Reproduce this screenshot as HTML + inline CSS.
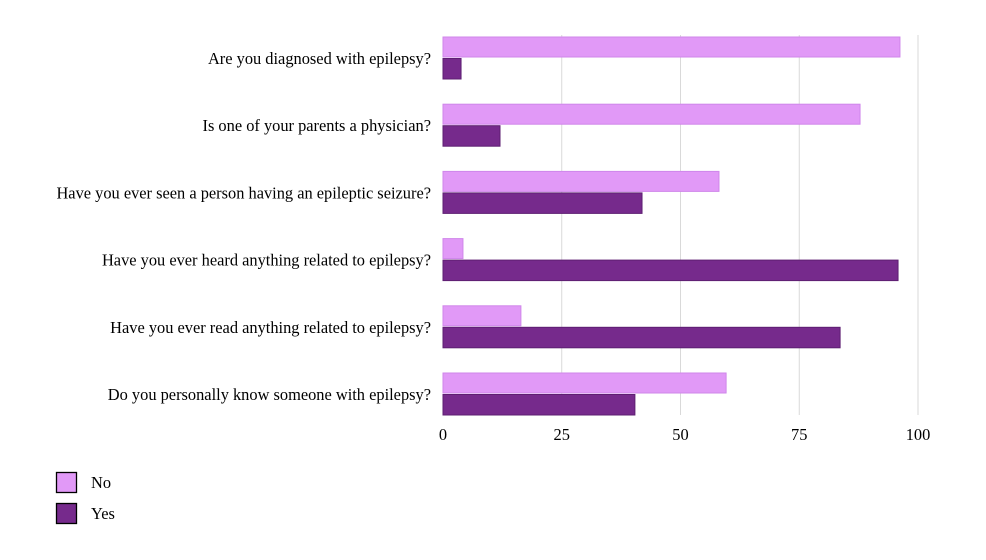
<!DOCTYPE html>
<html><head><meta charset="utf-8"><style>
body{margin:0;background:#fff;width:986px;height:555px;overflow:hidden;font-family:"Liberation Serif",serif;}
</style></head><body>
<svg id="chart" width="986" height="555" xmlns="http://www.w3.org/2000/svg" font-family="Liberation Serif, serif" font-size="16.4" fill="#000"></svg>
<script>
const categories=["Are you diagnosed with epilepsy?","Is one of your parents a physician?","Have you ever seen a person having an epileptic seizure?","Have you ever heard anything related to epilepsy?","Have you ever read anything related to epilepsy?","Do you personally know someone with epilepsy?"];
const noValues=[96.2,87.8,58.1,4.2,16.4,59.6];
const yesValues=[3.8,12,41.9,95.8,83.6,40.4];
const tickLabels=[0,25,50,75,100];
const svg=document.getElementById('chart');
const NS="http://www.w3.org/2000/svg";
const x0=443,x1=918,plotTop=35,rowH=67.2,plotBottom=415;
function xs(v){return x0+(x1-x0)*v/100;}
function mk(t,a,txt){const e=document.createElementNS(NS,t);for(const k in a)e.setAttribute(k,a[k]);if(txt!==undefined)e.textContent=txt;svg.appendChild(e);return e;}
tickLabels.forEach(t=>{
 if(t>0){const g=mk('line',{x1:xs(t),x2:xs(t),y1:plotTop,y2:plotBottom,stroke:'#d9d9d9','stroke-width':1});
 
 }
 const l=mk('text',{x:xs(t),y:440,'text-anchor':'middle'},String(t));
 
 
});
categories.forEach((c,i)=>{
 const y=plotTop+2+i*rowH;
 const lab=mk('text',{x:431,y:y+27,'text-anchor':'end'},c);
 
 
 const b1=mk('rect',{x:x0,y:y,width:xs(noValues[i])-x0,height:20,fill:'#e199f7',stroke:'#cf86ea','stroke-width':1});
 
 
 const b2=mk('rect',{x:x0,y:y+21.5,width:xs(yesValues[i])-x0,height:20.5,fill:'#762a8c',stroke:'#5e1f72','stroke-width':1});
 
 
});
[["No","#e199f7",472],["Yes","#762a8c",503]].forEach(([n,c,y])=>{
 const r=mk('rect',{x:56.5,y:y+0.5,width:20,height:20,fill:c,stroke:'#000','stroke-width':1.3});
 
 
 const t=mk('text',{x:91,y:y+16},n);
 
 
});
</script>
</body></html>
